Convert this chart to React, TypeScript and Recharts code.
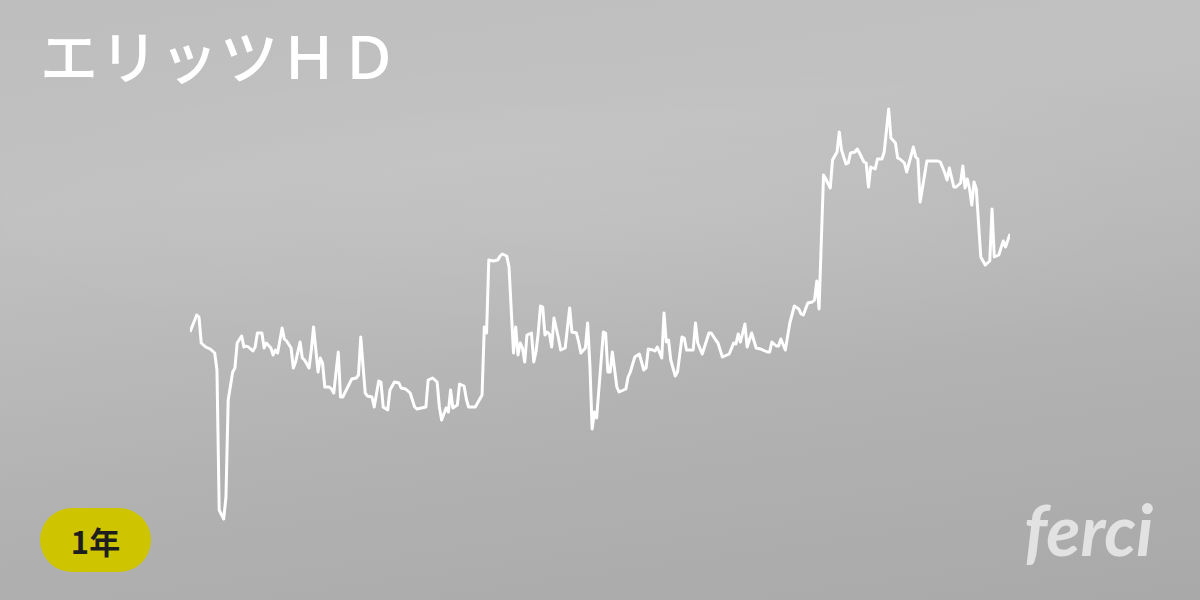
import { LineChart, Line, XAxis, YAxis } from 'recharts';

// calendar day offset from start of the 1-year window
const days = [
  0, 3, 4, 5, 7, 9, 11, 12, 13, 15, 16, 17, 19, 20, 21, 23, 24, 25, 26, 28, 29, 30, 32, 33, 34, 36, 37, 38, 39,
  41, 42, 43, 45, 46, 47, 49, 50, 51, 53, 54, 55, 57, 58, 59, 60, 62, 63, 64, 66, 67, 68, 70, 72, 74, 75, 76,
  78, 79, 81, 82, 84, 85, 86, 88, 89, 91, 93, 94, 96, 98, 100, 101, 103, 105, 106, 108, 110, 111, 112, 114,
  115, 116, 117, 119, 120, 122, 123, 124, 127, 128, 130, 131, 132, 133, 135, 137, 138, 139, 141, 142, 144,
  145, 146, 147, 148, 149, 150, 152, 153, 154, 155, 156, 157, 158, 159, 160, 161, 162, 164, 165, 167, 169,
  170, 172, 173, 174, 176, 177, 178, 179, 180, 181, 184, 185, 186, 187, 188, 190, 191, 194, 195, 196, 198,
  200, 201, 202, 203, 204, 206, 207, 208, 210, 211, 212, 213, 214, 216, 217, 219, 220, 221, 224, 225, 226,
  228, 229, 231, 232, 234, 235, 237, 238, 240, 242, 243, 244, 245, 247, 248, 250, 252, 254, 257, 258, 259,
  261, 262, 263, 265, 267, 269, 271, 272, 273, 275, 277, 278, 279, 280, 282, 283, 285, 286, 288, 289, 290,
  292, 293, 294, 296, 297, 298, 300, 301, 302, 303, 305, 306, 308, 309, 311, 312, 314, 315, 316, 318, 319,
  322, 323, 324, 325, 328, 333, 334, 336, 337, 338, 340, 341, 343, 344, 345, 346, 347, 348, 349, 350, 352,
  354, 356, 357, 358, 360, 362, 363, 365,
];

// relative price level
const closes = [
  268, 285, 283, 257, 253, 251, 247, 230, 90, 81, 103, 200, 228, 232, 257, 264, 253, 254, 253, 249, 253, 267,
  267, 252, 257, 252, 245, 250, 247, 272, 261, 259, 252, 232, 238, 258, 242, 240, 232, 250, 273, 228, 242,
  237, 213, 213, 211, 207, 248, 203, 203, 212, 221, 222, 225, 263, 207, 204, 203, 193, 219, 218, 193, 190,
  210, 218, 217, 212, 211, 207, 193, 191, 192, 193, 220, 222, 218, 193, 180, 192, 188, 210, 192, 195, 216,
  214, 201, 193, 193, 197, 205, 273, 267, 340, 339, 340, 344, 346, 344, 333, 247, 273, 245, 257, 252, 238,
  265, 267, 238, 248, 267, 294, 293, 265, 268, 266, 253, 282, 262, 250, 252, 292, 268, 267, 258, 247, 252,
  277, 235, 171, 188, 182, 268, 267, 228, 228, 248, 213, 208, 211, 223, 228, 243, 246, 238, 230, 232, 251,
  250, 249, 253, 242, 287, 258, 260, 240, 224, 228, 263, 262, 250, 250, 277, 257, 246, 253, 267, 267, 260,
  257, 243, 244, 246, 257, 256, 266, 258, 276, 253, 267, 252, 251, 248, 248, 258, 254, 254, 261, 250, 277,
  294, 291, 286, 285, 297, 298, 300, 319, 291, 425, 421, 412, 440, 448, 468, 450, 436, 437, 447, 448, 451,
  447, 438, 437, 413, 433, 431, 441, 441, 448, 491, 462, 457, 442, 441, 437, 428, 453, 443, 441, 398, 439,
  439, 438, 427, 420, 432, 413, 413, 417, 434, 412, 421, 411, 395, 418, 411, 343, 335, 339, 391, 343, 345,
  359, 353, 366,
];

const title = 'エリッツＨＤ';
const periodLabel = '1年';
const brand = 'ferci';

const data = days.map((day, i) => ({ day, close: closes[i] }));

export default function App() {
  return (
    <div
      style={{
        position: 'absolute',
        left: 0,
        top: 0,
        width: 1200,
        height: 600,
        overflow: 'hidden',
        background:
          'linear-gradient(172deg, #bebebe 0%, #c1c1c1 28%, #b9b9b9 48%, #b1b1b1 68%, #a9a9a9 100%)',
        fontFamily: '"Noto Sans CJK JP", "Noto Sans", sans-serif',
      }}
    >
      <div
        style={{
          position: 'absolute',
          inset: 0,
          background:
            'radial-gradient(ellipse 700px 160px at 620px 210px, rgba(255,255,255,0.07), rgba(255,255,255,0) 100%)',
        }}
      />
      <div
        style={{
          position: 'absolute',
          left: 40,
          top: 20,
          fontSize: 58,
          fontWeight: 500,
          color: '#fff',
          lineHeight: 1.2,
          letterSpacing: 2,
        }}
      >
        {title}
      </div>

      <div style={{ position: 'absolute', left: 190, top: 100 }}>
        <LineChart width={820} height={430} data={data} margin={{ top: 0, right: 0, bottom: 0, left: 0 }}>
          <XAxis dataKey="day" type="number" domain={[0, 365]} hide />
          <YAxis domain={[70, 500]} hide />
          <Line
            type="linear"
            dataKey="close"
            stroke="#ffffff"
            strokeWidth={3}
            strokeLinejoin="round"
            dot={false}
            isAnimationActive={false}
          />
        </LineChart>
      </div>

      <div
        style={{
          position: 'absolute',
          left: 40,
          top: 508,
          width: 111,
          height: 64,
          borderRadius: 32,
          background: '#cec400',
          color: '#1e1e1e',
          fontSize: 31,
          fontWeight: 700,
          display: 'flex',
          alignItems: 'center',
          justifyContent: 'center',
        }}
      >
        {periodLabel}
      </div>

      <div
        style={{
          position: 'absolute',
          left: 1024,
          top: 487,
          fontFamily: 'Lato, sans-serif',
          fontStyle: 'italic',
          fontWeight: 700,
          fontSize: 70,
          lineHeight: 1.2,
          color: '#e2e2e2',
          letterSpacing: 0,
        }}
      >
        {brand}
      </div>
    </div>
  );
}
